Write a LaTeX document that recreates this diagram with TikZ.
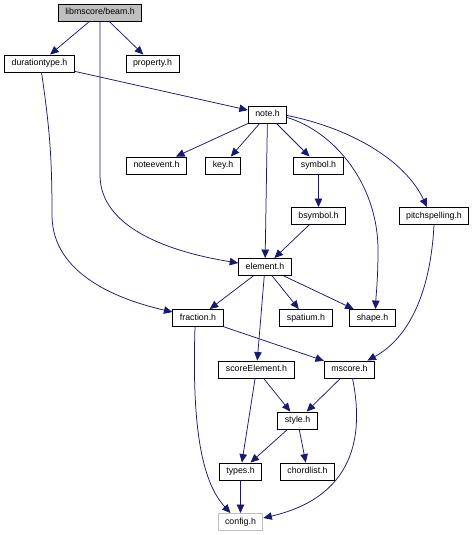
\documentclass[tikz,border=0pt]{standalone}
\usepackage{fontspec}
\setmainfont{Liberation Sans}
\usetikzlibrary{arrows.meta}
\definecolor{edgeblue}{RGB}{25,25,112}
\definecolor{rootgray}{RGB}{191,191,191}
\tikzset{
  hdr/.style={draw=black, line width=0.9pt, fill=white, minimum height=17pt, inner xsep=7pt, inner ysep=0pt,
    font=\fontsize{8.8}{10}\selectfont, text height=6.5pt, text depth=1.8pt},
  rootnode/.style={hdr, fill=rootgray},
  extnode/.style={hdr, draw=rootgray},
  e/.style={draw=edgeblue, line width=0.75pt, -{Triangle[length=8.5pt,width=7.5pt]}}
}
\begin{document}
\begin{tikzpicture}[x=1pt,y=-1pt]
\useasboundingbox (0,0) rectangle (474,535);
\node[rootnode] (beam) at (100,12.5) {libmscore/beam.h};
\node[hdr] (durationtype) at (39.5,63.5) {durationtype.h};
\node[hdr] (property) at (152.5,63.5) {property.h};
\node[hdr] (note) at (267.5,114.5) {note.h};
\node[hdr] (noteevent) at (156.5,165.5) {noteevent.h};
\node[hdr] (key) at (223,165.5) {key.h};
\node[hdr] (symbol) at (318.5,165.5) {symbol.h};
\node[hdr] (bsymbol) at (318.5,216) {bsymbol.h};
\node[hdr] (pitchspelling) at (434,216) {pitchspelling.h};
\node[hdr] (element) at (265,267) {element.h};
\node[hdr] (fraction) at (198,318) {fraction.h};
\node[hdr] (spatium) at (306,318) {spatium.h};
\node[hdr] (shape) at (372.5,318) {shape.h};
\node[hdr] (scoreElement) at (256.5,369.5) {scoreElement.h};
\node[hdr] (mscore) at (349.5,369.5) {mscore.h};
\node[hdr] (style) at (297.5,420.5) {style.h};
\node[hdr] (types) at (240.5,471.5) {types.h};
\node[hdr] (chordlist) at (307.5,471.5) {chordlist.h};
\node[extnode] (config) at (240.5,522) {config.h};

\draw[e] (beam) -- (durationtype);
\draw[e] (beam) -- (property);
\draw[e] (beam.south) -- (100,175) .. controls (100,228) and (170,252) .. ([yshift=4pt]element.west);
\draw[e] (durationtype) -- (note);
\draw[e] ([xshift=2pt]durationtype.south) .. controls (50,130) and (52,160) .. (52,215) .. controls (52,275) and (120,300) .. ([yshift=6pt]fraction.west);
\draw[e] (note) -- (noteevent);
\draw[e] (note) -- (key);
\draw[e] (note) -- (symbol);
\draw[e] (note) -- (element);
\draw[e] ([yshift=-3pt]note.east) .. controls (335,132) and (378,185) .. (378,250) .. controls (378,280) and (376,295) .. ([xshift=3pt]shape.north);
\draw[e] ([yshift=-1pt]note.east) .. controls (350,128) and (405,160) .. ([xshift=-7pt]pitchspelling.north);
\draw[e] (symbol) -- (bsymbol);
\draw[e] (bsymbol) -- (element);
\draw[e] (pitchspelling.south) .. controls (430,300) and (405,340) .. ([xshift=18pt]mscore.north);
\draw[e] (element) -- (fraction);
\draw[e] (element) -- (scoreElement);
\draw[e] (element) -- (spatium);
\draw[e] (element) -- (shape);
\draw[e] (fraction) -- (mscore);
\draw[e] ([xshift=-3pt]fraction.south) .. controls (192,420) and (200,480) .. ([xshift=-10pt]config.north);
\draw[e] (scoreElement) -- (types);
\draw[e] (scoreElement) -- (style);
\draw[e] (mscore) -- (style);
\draw[e] ([xshift=3pt]mscore.south) .. controls (362,425) and (362,495) .. ([yshift=4pt]config.east);
\draw[e] (style) -- (types);
\draw[e] (style) -- (chordlist);
\draw[e] (types) -- (config);
\end{tikzpicture}
\end{document}
